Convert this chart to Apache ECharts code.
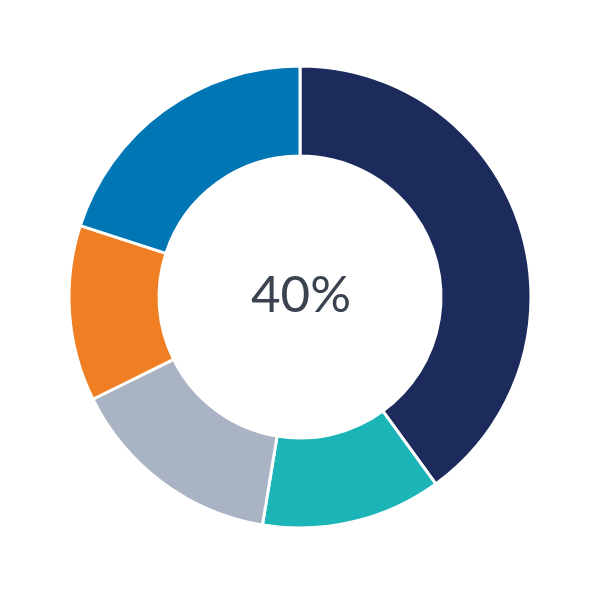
<!DOCTYPE html>
<html>
<head>
<meta charset="utf-8">
<script src="https://cdn.jsdelivr.net/npm/echarts@6/dist/echarts.min.js"></script>
<style>
html,body{margin:0;padding:0;background:#fff;}
#chart{width:600px;height:599px;}
</style>
</head>
<body>
<div id="chart"></div>
<script>
const categories = ['A', 'B', 'C', 'D', 'E'];
const values = [40, 12.6, 15.1, 12.3, 20];
const colors = ['#1c2b5b', '#1bb5b7', '#a9b3c3', '#f07e22', '#0076b4'];
const centerLabel = '40%';

const chart = echarts.init(document.getElementById('chart'), null, {renderer: 'canvas'});
chart.setOption({
  animation: false,
  backgroundColor: '#ffffff',
  title: {
    text: centerLabel,
    left: 296, top: 291,
    textAlign: 'center', textVerticalAlign: 'middle',
    textStyle: {fontFamily: 'Lato', fontSize: 51, fontWeight: 'normal', color: '#3c4350'}
  },
  series: [{
    type: 'pie',
    center: [300, 297],
    radius: [141, 231],
    startAngle: 90,
    clockwise: true,
    label: {show: false},
    labelLine: {show: false},
    itemStyle: {borderColor: '#ffffff', borderWidth: 3},
    emphasis: {disabled: true},
    data: categories.map((c, i) => ({name: c, value: values[i], itemStyle: {color: colors[i]}}))
  }]
});
</script>
</body>
</html>
